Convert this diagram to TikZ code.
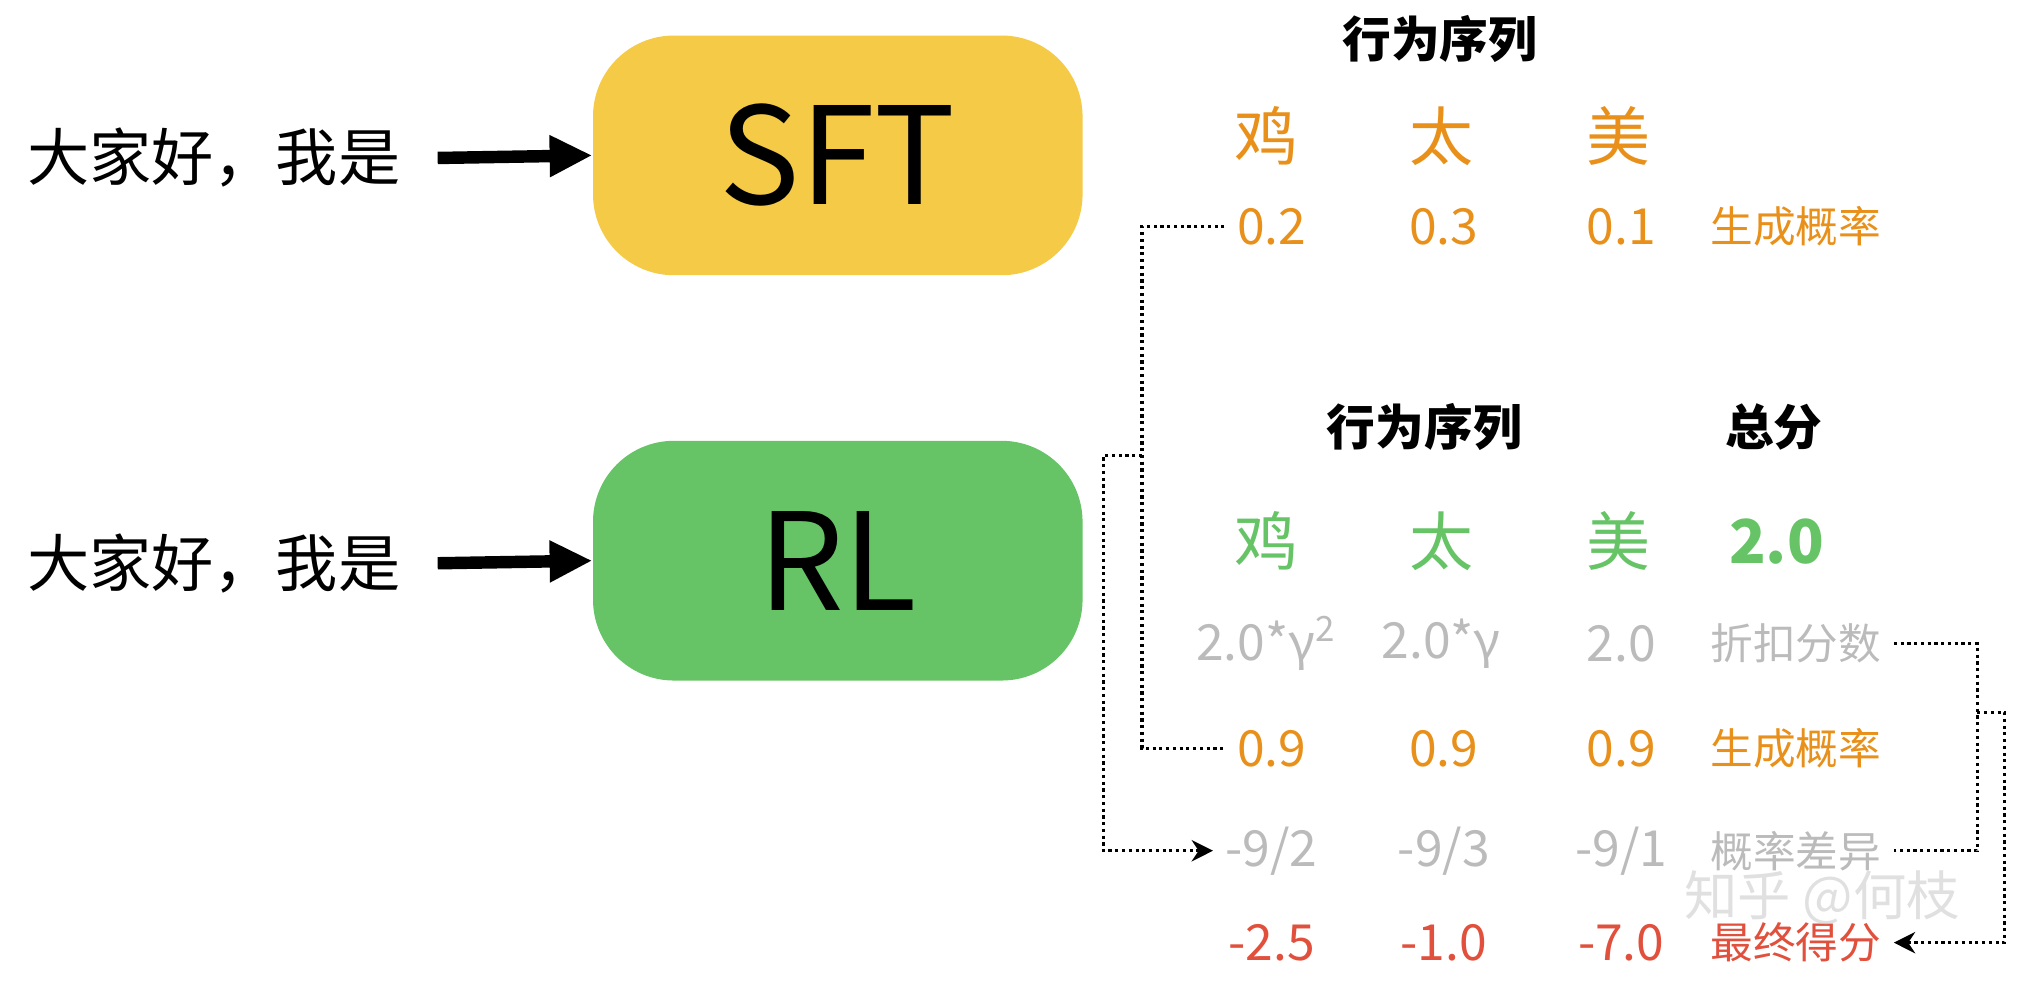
\documentclass[tikz,border=0pt]{standalone}
\usepackage{fontspec}
\setmainfont{Noto Sans CJK SC}
\usetikzlibrary{positioning}
\usetikzlibrary{arrows.meta}
\definecolor{sftyellow}{HTML}{F4CA46}
\definecolor{rlgreen}{HTML}{66C466}
\definecolor{probor}{HTML}{E8901A}
\definecolor{lightgr}{HTML}{BBBBBB}
\definecolor{finred}{HTML}{E0503C}
\begin{document}
\begin{tikzpicture}[x=0.0128cm,y=-0.0128cm,
    model/.style={draw=none, rounded corners=0.8cm, minimum width=4.84cm, minimum height=2.37cm, font=\fontsize{38}{40}\selectfont},
    prompt/.style={font=\fontsize{17.5}{19}\selectfont},
    head/.style={font=\fontsize{13.7}{15}\selectfont\bfseries},
    word/.style={font=\fontsize{18}{20}\selectfont},
    cell/.style={font=\fontsize{14}{16}\selectfont},
    lab/.style={font=\fontsize{12}{14}\selectfont},
    dotline/.style={densely dotted, line width=0.9pt},
    feed/.style={-{Triangle[length=12pt,width=11pt]}, line width=3.5pt},
]
\useasboundingbox (0,0) rectangle (1560,757);
% Models
\node[model, fill=sftyellow] (sft) at (647,120) {SFT};
\node[model, fill=rlgreen] (rl) at (647,433) {RL};
\node[prompt] (p1) at (165,122) {大家好，我是};
\node[prompt] (p2) at (165,435) {大家好，我是};
\draw[feed] (338,122) -- (sft.west);
\draw[feed] (338,435) -- (rl.west);

% SFT sequence
\node[head] (shead) at (1112,30) {行为序列};
\node[word, text=probor] (sw1) at (978,105) {鸡};
\node[word, text=probor] (sw2) at (1113,105) {太};
\node[word, text=probor] (sw3) at (1250,105) {美};
\node[cell, text=probor] (sp1) at (982,175) {0.2};
\node[cell, text=probor] (sp2) at (1115,175) {0.3};
\node[cell, text=probor] (sp3) at (1252,175) {0.1};
\node[lab, text=probor] (splab) at (1387,175) {生成概率};

% RL sequence
\node[head] (rhead) at (1100,330) {行为序列};
\node[head] (rtot) at (1370,330) {总分};
\node[word, text=rlgreen] (rw1) at (978,418) {鸡};
\node[word, text=rlgreen] (rw2) at (1113,418) {太};
\node[word, text=rlgreen] (rw3) at (1250,418) {美};
\node[word, text=rlgreen, font=\fontsize{17}{19}\selectfont\bfseries] (rscore) at (1372,418) {2.0};
\node[cell, text=lightgr] (rg1) at (978,497) {2.0*γ\textsuperscript{2}};
\node[cell, text=lightgr] (rg2) at (1113,497) {2.0*γ};
\node[cell, text=lightgr] (rg3) at (1252,497) {2.0};
\node[lab, text=lightgr] (rdisc) at (1387,497) {折扣分数};
\node[cell, text=probor] (rp1) at (982,578) {0.9};
\node[cell, text=probor] (rp2) at (1115,578) {0.9};
\node[cell, text=probor] (rp3) at (1252,578) {0.9};
\node[lab, text=probor] (rplab) at (1387,578) {生成概率};
\node[cell, text=lightgr] (rd1) at (982,657) {-9/2};
\node[cell, text=lightgr] (rd2) at (1115,657) {-9/3};
\node[cell, text=lightgr] (rd3) at (1252,657) {-9/1};
\node[lab, text=lightgr] (rdiff) at (1387,657) {概率差异};
\node[cell, text=finred] (rf1) at (982,728) {-2.5};
\node[cell, text=finred] (rf2) at (1115,728) {-1.0};
\node[cell, text=finred] (rf3) at (1252,728) {-7.0};
\node[lab, text=finred] (rfin) at (1387,728) {最终得分};
\node[text=black!20, opacity=0.6, font=\fontsize{15}{17}\selectfont, inner sep=0pt] (mark) at (1407,693) {知乎 @何枝};

% Dotted links
\coordinate (jl) at (882,352);
\coordinate (jr) at (1527,550);
\draw[dotline] (sp1.west) -- (882,175) |- (rp1.west);
\draw[dotline, -{Stealth[length=6pt,width=6pt]}] (jl) -- (852,352) |- (rd1.west);
\draw[dotline] (rdisc.east) -- (1527,497) |- (rdiff.east);
\draw[dotline, -{Stealth[length=6pt,width=6pt]}] (jr) -- (1548,550) |- (rfin.east);
\end{tikzpicture}
\end{document}
